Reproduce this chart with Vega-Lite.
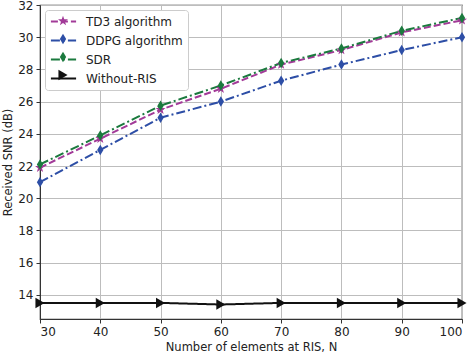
{
  "$schema": "https://vega.github.io/schema/vega-lite/v6.json",
  "width": 422,
  "height": 314,
  "autosize": "none",
  "padding": {"left": 40, "top": 5, "right": 12, "bottom": 36},
  "config": {
    "font": "DejaVu Sans",
    "view": {"stroke": "#333333", "strokeWidth": 1.2},
    "axis": {"gridColor": "#bdbdbd", "gridWidth": 1, "gridOpacity": 1, "domainColor": "#333333", "tickColor": "#333333", "labelColor": "#222222", "titleColor": "#222222", "labelFontSize": 12, "titleFontSize": 11.5, "titleFontWeight": "normal", "tickSize": 4, "labelPadding": 3}
  },
  "data": {"values": [
    {"N": 30, "snr": 21.9, "series": "TD3 algorithm"},
    {"N": 40, "snr": 23.7, "series": "TD3 algorithm"},
    {"N": 50, "snr": 25.5, "series": "TD3 algorithm"},
    {"N": 60, "snr": 26.8, "series": "TD3 algorithm"},
    {"N": 70, "snr": 28.3, "series": "TD3 algorithm"},
    {"N": 80, "snr": 29.2, "series": "TD3 algorithm"},
    {"N": 90, "snr": 30.3, "series": "TD3 algorithm"},
    {"N": 100, "snr": 31.05, "series": "TD3 algorithm"},
    {"N": 30, "snr": 21.0, "series": "DDPG algorithm"},
    {"N": 40, "snr": 23.0, "series": "DDPG algorithm"},
    {"N": 50, "snr": 25.0, "series": "DDPG algorithm"},
    {"N": 60, "snr": 26.0, "series": "DDPG algorithm"},
    {"N": 70, "snr": 27.3, "series": "DDPG algorithm"},
    {"N": 80, "snr": 28.3, "series": "DDPG algorithm"},
    {"N": 90, "snr": 29.2, "series": "DDPG algorithm"},
    {"N": 100, "snr": 30.0, "series": "DDPG algorithm"},
    {"N": 30, "snr": 22.1, "series": "SDR"},
    {"N": 40, "snr": 23.9, "series": "SDR"},
    {"N": 50, "snr": 25.75, "series": "SDR"},
    {"N": 60, "snr": 27.0, "series": "SDR"},
    {"N": 70, "snr": 28.4, "series": "SDR"},
    {"N": 80, "snr": 29.3, "series": "SDR"},
    {"N": 90, "snr": 30.4, "series": "SDR"},
    {"N": 100, "snr": 31.2, "series": "SDR"},
    {"N": 30, "snr": 13.5, "series": "Without-RIS"},
    {"N": 40, "snr": 13.5, "series": "Without-RIS"},
    {"N": 50, "snr": 13.5, "series": "Without-RIS"},
    {"N": 60, "snr": 13.4, "series": "Without-RIS"},
    {"N": 70, "snr": 13.5, "series": "Without-RIS"},
    {"N": 80, "snr": 13.5, "series": "Without-RIS"},
    {"N": 90, "snr": 13.5, "series": "Without-RIS"},
    {"N": 100, "snr": 13.5, "series": "Without-RIS"}
  ]},
  "encoding": {
    "x": {"field": "N", "type": "quantitative", "scale": {"domain": [30, 100], "nice": false, "zero": false}, "axis": {"values": [30, 40, 50, 60, 70, 80, 90, 100], "title": "Number of elements at RIS, N", "titlePadding": 4}},
    "y": {"field": "snr", "type": "quantitative", "scale": {"domain": [12.5, 32], "nice": false, "zero": false}, "axis": {"values": [14, 16, 18, 20, 22, 24, 26, 28, 30, 32], "title": "Received SNR (dB)", "titlePadding": 4}}
  },
  "layer": [
    {
      "mark": {"type": "line", "strokeWidth": 2},
      "encoding": {
        "color": {"field": "series", "type": "nominal", "scale": {"domain": ["TD3 algorithm", "DDPG algorithm", "SDR", "Without-RIS"], "range": ["#a23a98", "#2d4ea6", "#1b7a3e", "#111111"]},
          "legend": {"title": null, "orient": "none", "legendX": 5, "legendY": 5, "fillColor": "white", "strokeColor": "#cccccc", "padding": 5, "cornerRadius": 3, "labelFontSize": 12, "labelColor": "#222222", "rowPadding": 6, "symbolSize": 110, "symbolType": "M-2.4,0H2.4", "symbolStrokeWidth": 2, "symbolOffset": 7, "labelOffset": 16}},
        "strokeDash": {"field": "series", "type": "nominal", "scale": {"domain": ["TD3 algorithm", "DDPG algorithm", "SDR", "Without-RIS"], "range": [[7, 3], [9, 3, 2, 3], [9, 3, 2, 3], [1, 0]]}}
      }
    },
    {
      "mark": {"type": "point", "filled": true, "opacity": 1, "strokeWidth": 0},
      "encoding": {
        "fill": {"field": "series", "type": "nominal", "scale": {"domain": ["Without-RIS", "TD3 algorithm", "DDPG algorithm", "SDR"], "range": ["#111111", "#a23a98", "#2d4ea6", "#1b7a3e"]},
          "legend": {"title": null, "values": ["TD3 algorithm", "DDPG algorithm", "SDR", "Without-RIS"], "orient": "none", "legendX": 5, "legendY": 5, "padding": 5, "labelFontSize": 12, "labelExpr": "''", "rowPadding": 6, "symbolSize": 110, "symbolOffset": 7, "labelOffset": 16, "symbolStrokeWidth": 0, "symbolOpacity": 1}},
        "shape": {"field": "series", "type": "nominal", "scale": {"domain": ["Without-RIS", "TD3 algorithm", "DDPG algorithm", "SDR"], "range": ["triangle-right", "M0,-1L0.24,-0.33L0.95,-0.31L0.38,0.12L0.59,0.81L0,0.4L-0.59,0.81L-0.38,0.12L-0.95,-0.31L-0.24,-0.33Z", "M0,-1L0.6,0L0,1L-0.6,0Z", "M0,-1L0.6,0L0,1L-0.6,0Z"]},
          "legend": {"title": null, "values": ["TD3 algorithm", "DDPG algorithm", "SDR", "Without-RIS"], "orient": "none", "legendX": 5, "legendY": 5, "padding": 5, "labelFontSize": 12, "labelExpr": "''", "rowPadding": 6, "symbolSize": 110, "symbolOffset": 7, "labelOffset": 16, "symbolStrokeWidth": 0, "symbolOpacity": 1}},
        "size": {"value": 110}
      }
    }
  ]
}
